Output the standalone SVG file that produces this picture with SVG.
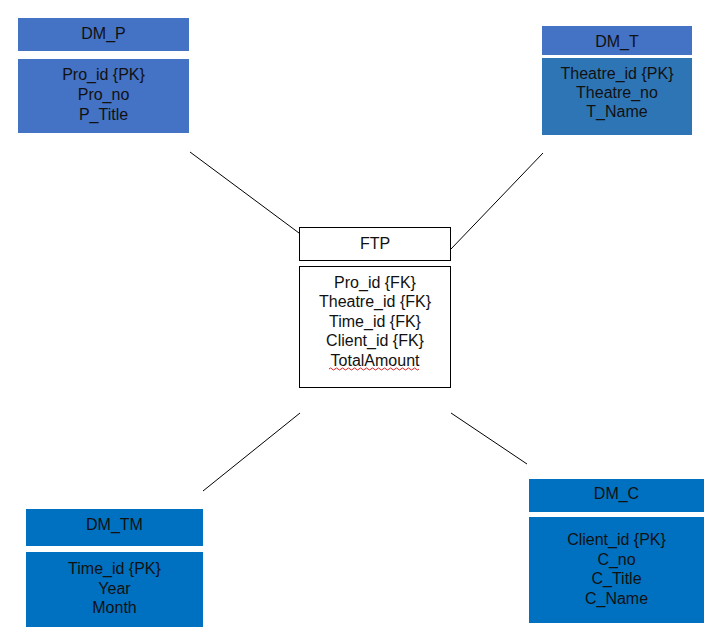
<svg xmlns="http://www.w3.org/2000/svg" width="721" height="638" viewBox="0 0 721 638">
<style>
text{font-family:"Liberation Sans",Arial,sans-serif;font-size:16px;fill:#111;text-anchor:middle}
.a{fill:#4472C4}
.b{fill:#2E75B6}
.c{fill:#0070C0}
.w{fill:#fff;stroke:#000;stroke-width:1}
.ln{stroke:#000;stroke-width:1;fill:none}
</style>
<rect width="721" height="638" fill="#fff"/>
<g id="connectors">
<line class="ln" x1="190" y1="152" x2="299" y2="233"/>
<line class="ln" x1="543" y1="153" x2="451" y2="249"/>
<line class="ln" x1="300" y1="413" x2="203" y2="491"/>
<line class="ln" x1="451" y1="413" x2="527" y2="464"/>
</g>
<g id="DM_P">
<rect class="a" x="18" y="18" width="171" height="33"/>
<rect class="a" x="18" y="59" width="171" height="74"/>
<text x="103.5" y="39">DM_P</text>
<text x="103.5" y="80">Pro_id {PK}</text>
<text x="103.5" y="100">Pro_no</text>
<text x="103.5" y="120">P_Title</text>
</g>
<g id="DM_T">
<rect class="a" x="542" y="26" width="150" height="29"/>
<rect class="b" x="542" y="58" width="150" height="77"/>
<text x="617" y="47">DM_T</text>
<text x="617" y="79">Theatre_id {PK}</text>
<text x="617" y="98">Theatre_no</text>
<text x="617" y="117">T_Name</text>
</g>
<g id="FTP">
<rect class="w" x="299.5" y="227.5" width="151" height="33"/>
<rect class="w" x="299.5" y="266.5" width="151" height="121"/>
<text x="375" y="249">FTP</text>
<text x="375" y="288">Pro_id {FK}</text>
<text x="375" y="307">Theatre_id {FK}</text>
<text x="375" y="327">Time_id {FK}</text>
<text x="375" y="346">Client_id {FK}</text>
<text x="375" y="366">TotalAmount</text>
<path d="M329 369 q1.5 -2 3 0 t3 0 t3 0 t3 0 t3 0 t3 0 t3 0 t3 0 t3 0 t3 0 t3 0 t3 0 t3 0 t3 0 t3 0 t3 0 t3 0 t3 0 t3 0 t3 0 t3 0 t3 0 t3 0 t3 0 t3 0 t3 0 t3 0 t3 0 t3 0 t3 0" fill="none" stroke="#e02020" stroke-width="1"/>
</g>
<g id="DM_TM">
<rect class="c" x="26" y="509" width="177" height="37"/>
<rect class="c" x="26" y="552" width="177" height="75"/>
<text x="114.5" y="530">DM_TM</text>
<text x="114.5" y="574">Time_id {PK}</text>
<text x="114.5" y="594">Year</text>
<text x="114.5" y="613">Month</text>
</g>
<g id="DM_C">
<rect class="c" x="529" y="479" width="175" height="33"/>
<rect class="c" x="529" y="517" width="175" height="106"/>
<text x="616.5" y="499">DM_C</text>
<text x="616.5" y="545">Client_id {PK}</text>
<text x="616.5" y="565">C_no</text>
<text x="616.5" y="584">C_Title</text>
<text x="616.5" y="604">C_Name</text>
</g>
</svg>
